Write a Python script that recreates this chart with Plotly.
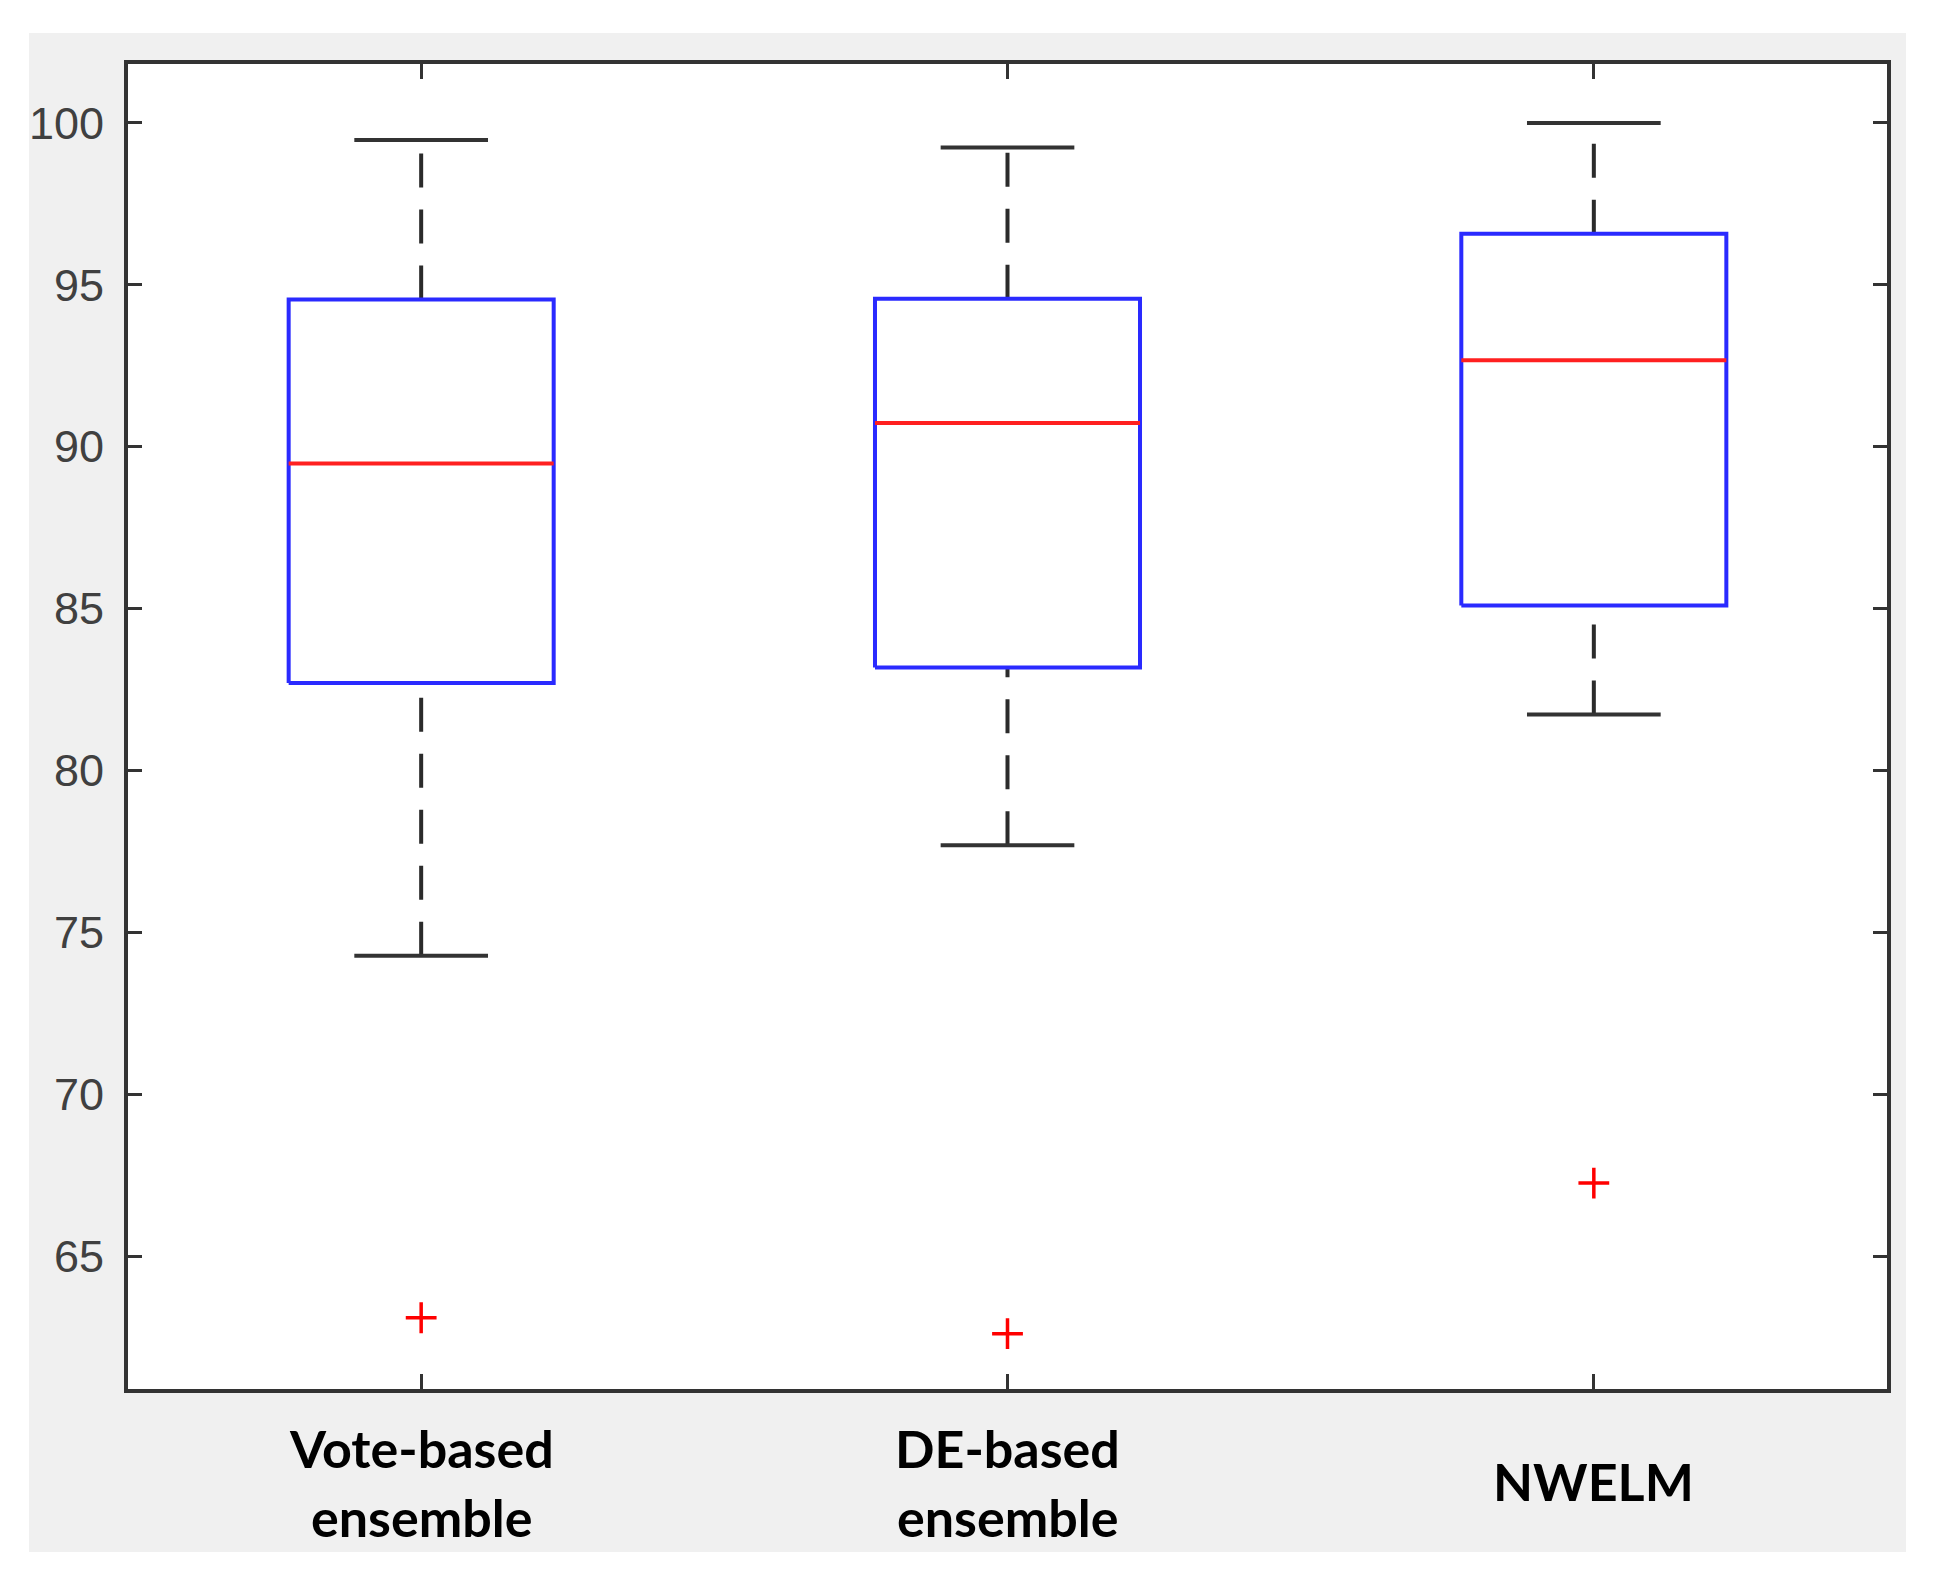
import plotly.graph_objects as go

categories = ["Vote-based<br>ensemble", "DE-based<br>ensemble", "NWELM"]
positions = [1, 2, 3]
upper_whisker = [99.47, 99.24, 100.0]
q3 = [94.55, 94.57, 96.58]
median = [89.48, 90.73, 92.67]
q1 = [82.70, 83.18, 85.10]
lower_whisker = [74.28, 77.69, 81.73]
outliers = [63.10, 62.61, 67.26]
y_ticks = [65, 70, 75, 80, 85, 90, 95, 100]

box_half = 0.226
cap_half = 0.114

box_x, box_y = [], []
med_x, med_y = [], []
wh_x, wh_y = [], []
cap_x, cap_y = [], []
for p, hi, b3, m, b1, lo in zip(positions, upper_whisker, q3, median, q1, lower_whisker):
    box_x += [p - box_half, p + box_half, p + box_half, p - box_half, p - box_half, None]
    box_y += [b1, b1, b3, b3, b1, None]
    med_x += [p - box_half, p + box_half, None]
    med_y += [m, m, None]
    # whiskers drawn upward (dash pattern starts at lower end)
    wh_x += [p, p, None, p, p, None]
    wh_y += [b3, hi, None, lo, b1, None]
    cap_x += [p - cap_half, p + cap_half, None, p - cap_half, p + cap_half, None]
    cap_y += [hi, hi, None, lo, lo, None]

fig = go.Figure()
fig.add_trace(go.Scatter(x=wh_x, y=wh_y, mode="lines",
                         line=dict(color="#2b2b2b", width=4, dash="34px,22px"),
                         hoverinfo="skip", showlegend=False))
fig.add_trace(go.Scatter(x=cap_x, y=cap_y, mode="lines",
                         line=dict(color="#333333", width=4),
                         hoverinfo="skip", showlegend=False))
fig.add_trace(go.Scatter(x=box_x, y=box_y, mode="lines",
                         line=dict(color="#2a2aff", width=4),
                         hoverinfo="skip", showlegend=False))
fig.add_trace(go.Scatter(x=med_x, y=med_y, mode="lines",
                         line=dict(color="#ff2020", width=4),
                         hoverinfo="skip", showlegend=False))
fig.add_trace(go.Scatter(x=positions, y=outliers, mode="markers",
                         marker=dict(symbol="cross-thin", size=22,
                                     line=dict(color="#ff0000", width=3.5)),
                         hoverinfo="skip", showlegend=False))

# grey figure panel (MATLAB style) and white axes area on top of it
fig.add_shape(type="rect", xref="paper", yref="paper",
              x0=-0.0563, x1=1.0108, y0=-0.1230, y1=1.0234,
              fillcolor="#f0f0f0", line=dict(width=0), layer="below")
fig.add_shape(type="rect", xref="x domain", yref="y domain",
              x0=0, x1=1, y0=0, y1=1,
              fillcolor="#ffffff", line=dict(width=0), layer="below")

# category labels under the axis, one annotation per text line
line_y = {1: [-0.0694], 2: [-0.0445, -0.0966]}
for p, label in zip(positions, categories):
    parts = label.split("<br>")
    for part, yy in zip(parts, line_y[len(parts)]):
        fig.add_annotation(x=p, y=yy, xref="x", yref="paper",
                           text=part, showarrow=False, yanchor="middle",
                           xanchor="center",
                           font=dict(family="Lato", size=52, color="#000000",
                                     weight="bold"))

# page body has an 8px default margin; figure is sized/offset to compensate
fig.update_layout(
    width=1927, height=1582,
    margin=dict(l=120, r=48, t=56, b=201),
    paper_bgcolor="#ffffff",
    plot_bgcolor="#ffffff",
    showlegend=False,
)
fig.update_xaxes(range=[0.5, 3.5], tickvals=positions,
                 showticklabels=False, ticks="inside", ticklen=15, tickwidth=3,
                 tickcolor="#333333", showline=True, linecolor="#333333",
                 linewidth=4, mirror="ticks", showgrid=False, zeroline=False)
fig.update_yaxes(range=[60.9, 101.82], tickvals=y_ticks,
                 ticktext=[str(v) for v in y_ticks],
                 ticks="inside", ticklen=14, tickwidth=3, tickcolor="#333333",
                 showline=True, linecolor="#333333", linewidth=4,
                 mirror="ticks", showgrid=False, zeroline=False,
                 ticklabelstandoff=11,
                 tickfont=dict(family="Liberation Sans, Arial", size=45,
                               color="#404040"))

fig.write_html("out.html")
